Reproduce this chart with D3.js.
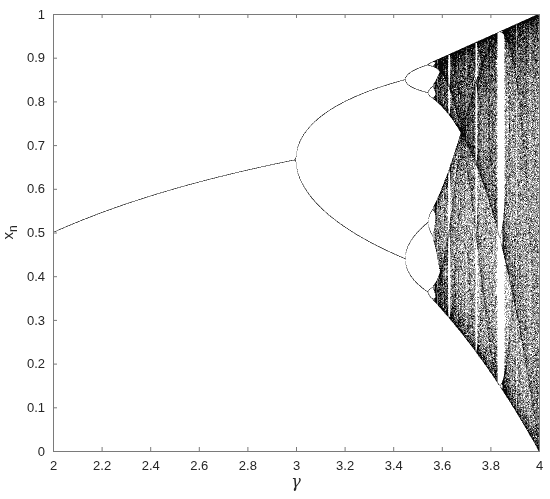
<!DOCTYPE html>
<html>
<head>
<meta charset="utf-8">
<script src="https://cdn.jsdelivr.net/npm/d3@7"></script>
<style>
  html, body { margin: 0; padding: 0; background: #fff; }
  #wrap { position: relative; width: 550px; height: 499px; }
  #wrap canvas, #wrap svg { position: absolute; left: 0; top: 0; }
  text { font-family: "Liberation Sans", Arial, sans-serif; }
</style>
</head>
<body>
<div id="wrap"></div>
<script>
// ---- data / model parameters (logistic map x_{n+1} = γ x_n (1 - x_n)) ----
const gammaDomain = [2, 4];
const xDomain = [0, 1];
const xTickValues = [2, 2.2, 2.4, 2.6, 2.8, 3, 3.2, 3.4, 3.6, 3.8, 4];
const xTickLabels = ["2", "2.2", "2.4", "2.6", "2.8", "3", "3.2", "3.4", "3.6", "3.8", "4"];
const yTickValues = [0, 0.1, 0.2, 0.3, 0.4, 0.5, 0.6, 0.7, 0.8, 0.9, 1];
const yTickLabels = ["0", "0.1", "0.2", "0.3", "0.4", "0.5", "0.6", "0.7", "0.8", "0.9", "1"];
const x0Value = [0.5];
const transientIter = [1000];
const keptIter = [200];
const xLabel = "γ";
const yLabelMain = "x";
const yLabelSub = "n";

// ---- layout ----
const W = 550, H = 499;
const m = { left: 53, top: 14, right: 11, bottom: 48 };
const pw = W - m.left - m.right;   // 486
const ph = H - m.top - m.bottom;   // 437
const S = 2;                        // supersampling factor for the point cloud

const wrap = d3.select("#wrap");

// ---- point cloud on canvas, via d3 scales ----
const canvas = wrap.append("canvas")
  .attr("width", pw).attr("height", ph)
  .style("left", m.left + "px").style("top", m.top + "px");
const ctx = canvas.node().getContext("2d");

const HW = pw * S, HH = ph * S;
const gHi = d3.scaleLinear().domain(gammaDomain).range([0, HW]);
const yHi = d3.scaleLinear().domain(xDomain).range([HH, 0]);
const hit = new Uint8Array(HW * HH);

const nG = HW * 3;
const gammas = d3.range(nG + 1).map(i => gHi.invert(i * HW / nG));
for (const g of gammas) {
  let x = x0Value[0];
  for (let k = 0; k < transientIter[0]; k++) x = g * x * (1 - x);
  const px = Math.min(HW - 1, Math.floor(gHi(g)));
  for (let k = 0; k < keptIter[0]; k++) {
    x = g * x * (1 - x);
    const py = Math.min(HH - 1, Math.max(0, Math.floor(yHi(x))));
    hit[py * HW + px] = 1;
  }
}
// downsample S×S blocks to grey levels
const img = ctx.createImageData(pw, ph);
for (let r = 0; r < ph; r++) {
  for (let c = 0; c < pw; c++) {
    let s = 0;
    for (let a = 0; a < S; a++) for (let b = 0; b < S; b++) s += hit[(r * S + a) * HW + c * S + b];
    const cov = s / (S * S);
    const v = Math.round(255 * (1 - cov * 0.97));
    const o = (r * pw + c) * 4;
    img.data[o] = v; img.data[o + 1] = v; img.data[o + 2] = v; img.data[o + 3] = 255;
  }
}
ctx.putImageData(img, 0, 0);

// ---- axes in SVG ----
const svg = wrap.append("svg").attr("width", W).attr("height", H);
const xs = d3.scaleLinear().domain(gammaDomain).range([m.left, m.left + pw]);
const ys = d3.scaleLinear().domain(xDomain).range([m.top + ph, m.top]);

const axisColor = "#7a7a7a";
const textColor = "#262626";

function styleAxis(g, showLabels) {
  g.select(".domain").remove();
  g.selectAll(".tick line").attr("stroke", axisColor);
  g.selectAll(".tick text")
    .attr("fill", textColor)
    .style("font-size", "13px")
    .style("display", showLabels ? null : "none");
}

const fx = (d) => xTickLabels[xTickValues.indexOf(d)];
const fy = (d) => yTickLabels[yTickValues.indexOf(d)];

svg.append("g").attr("transform", `translate(0,${m.top + ph})`)
  .call(d3.axisBottom(xs).tickValues(xTickValues).tickFormat(fx).tickSizeInner(-4).tickSizeOuter(0).tickPadding(10))
  .call(g => styleAxis(g, true));
svg.append("g").attr("transform", `translate(0,${m.top})`)
  .call(d3.axisTop(xs).tickValues(xTickValues).tickFormat(fx).tickSizeInner(-4).tickSizeOuter(0))
  .call(g => styleAxis(g, false));
svg.append("g").attr("transform", `translate(${m.left},0)`)
  .call(d3.axisLeft(ys).tickValues(yTickValues).tickFormat(fy).tickSizeInner(-4).tickSizeOuter(0).tickPadding(8))
  .call(g => styleAxis(g, true));
svg.append("g").attr("transform", `translate(${m.left + pw},0)`)
  .call(d3.axisRight(ys).tickValues(yTickValues).tickFormat(fy).tickSizeInner(-4).tickSizeOuter(0))
  .call(g => styleAxis(g, false));

// box
svg.append("rect")
  .attr("x", m.left + 0.5).attr("y", m.top + 0.5)
  .attr("width", pw).attr("height", ph)
  .attr("fill", "none").attr("stroke", axisColor).attr("stroke-width", 1);

// x label
svg.append("text")
  .attr("x", m.left + pw / 2).attr("y", 487)
  .attr("text-anchor", "middle")
  .attr("fill", textColor)
  .style("font-family", "'DejaVu Serif', 'Liberation Serif', serif")
  .style("font-style", "italic")
  .style("font-size", "16px")
  .text(xLabel);

// y label
const yl = svg.append("text")
  .attr("transform", `translate(13,${m.top + ph / 2}) rotate(-90)`)
  .attr("text-anchor", "middle")
  .attr("fill", textColor)
  .style("font-size", "15px");
yl.append("tspan").text(yLabelMain);
yl.append("tspan").attr("dy", 4).style("font-size", "12px").text(yLabelSub);
</script>
</body>
</html>
